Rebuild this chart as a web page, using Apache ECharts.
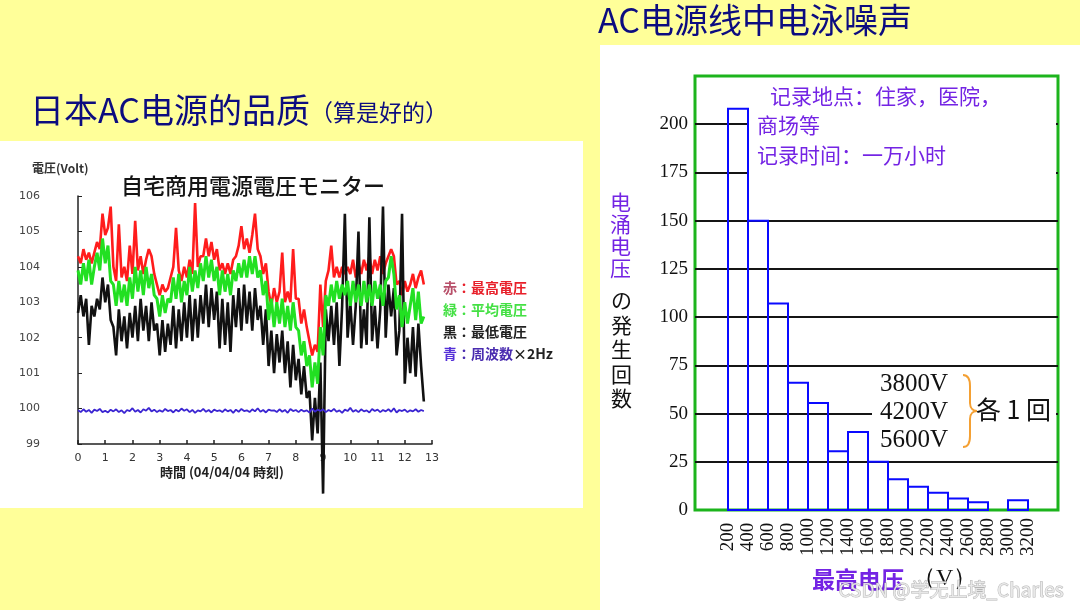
<!DOCTYPE html>
<html>
<head>
<meta charset="utf-8">
<script src="https://cdn.jsdelivr.net/npm/echarts@6/dist/echarts.min.js"></script>
<style>
html,body{margin:0;padding:0;width:1080px;height:610px;background:#ffff99;overflow:hidden;}
#panelL{position:absolute;left:0;top:141px;width:583px;height:367px;background:#fff;}
#panelR{position:absolute;left:600px;top:45px;width:480px;height:565px;background:#fff;}
#chart{position:absolute;left:0;top:0;width:1080px;height:610px;}
</style>
</head>
<body>
<div id="panelL"></div>
<div id="panelR"></div>
<div id="chart"></div>
<script>
// ---------- Left chart: 自宅商用電源電圧モニター ----------
const HOURS = [0,0.1,0.2,0.3,0.4,0.5,0.6,0.7,0.8,0.9,1.0,1.1,1.2,1.3,1.4,1.5,1.6,1.7,1.8,1.9,
2.0,2.1,2.2,2.3,2.4,2.5,2.6,2.7,2.8,2.9,3.0,3.1,3.2,3.3,3.4,3.5,3.6,3.7,3.8,3.9,
4.0,4.1,4.2,4.3,4.4,4.5,4.6,4.7,4.8,4.9,5.0,5.1,5.2,5.3,5.4,5.5,5.6,5.7,5.8,5.9,
6.0,6.1,6.2,6.3,6.4,6.5,6.6,6.7,6.8,6.9,7.0,7.1,7.2,7.3,7.4,7.5,7.6,7.7,7.8,7.9,
8.0,8.1,8.2,8.3,8.4,8.5,8.6,8.7,8.8,8.9,9.0,9.1,9.2,9.3,9.4,9.5,9.6,9.7,9.8,9.9,
10.0,10.1,10.2,10.3,10.4,10.5,10.6,10.7,10.8,10.9,11.0,11.1,11.2,11.3,11.4,11.5,11.6,11.7,11.8,11.9,
12.0,12.1,12.2,12.3,12.4,12.5,12.6,12.7];

const V_MAX = [104.3,104.1,104.5,104.2,104.4,104.1,104.4,
104.7,104.5,105.5,104.9,
105.1,105.7,
104.0,103.6,105.2,103.7,104.0,103.6,104.6,103.8,
105.3,103.9,104.3,103.8,104.2,104.5,104.3,103.8,
103.5,103.2,103.5,103.3,103.4,
103.7,104.0,105.1,103.9,103.6,104.0,103.7,
104.2,103.8,105.8,104.0,104.3,
104.3,104.8,104.3,104.7,104.2,104.5,
103.9,104.1,103.8,104.1,103.8,104.2,
104.3,104.6,105.15,104.5,104.8,104.4,104.9,105.5,104.5,
104.3,103.8,104.1,
103.3,102.9,103.4,103.0,103.3,104.4,103.0,103.3,
103.0,104.5,103.1,
103.1,102.4,102.8,102.3,
101.9,101.5,101.8,101.6,
103.5,102.3,
103.6,103.9,104.6,103.7,
104.0,103.7,104.0,103.8,104.0,
103.8,104.2,103.7,104.1,103.8,104.2,103.9,104.3,103.8,104.2,103.9,104.3,103.8,104.1,
104.3,104.5,104.3,
103.5,103.6,103.2,103.6,103.3,103.5,
103.8,103.4,103.7,103.9,103.5];

const V_AVG = [103.9,103.5,104.1,103.6,104.2,103.5,104.0,
104.4,103.9,104.8,104.1,
104.6,103.6,
103.5,102.9,103.6,103.0,103.5,102.9,103.7,103.1,
104.0,103.3,103.9,103.2,104.0,103.4,103.8,103.2,
103.1,102.6,103.2,102.7,103.1,
103.0,103.7,103.1,103.8,103.0,103.6,103.2,
104.0,103.3,103.9,103.4,104.1,
103.6,104.3,103.7,104.2,103.6,104.0,
103.2,103.9,103.3,103.8,103.2,103.9,
103.6,104.1,103.7,104.2,103.7,104.3,103.8,104.3,103.7,
103.9,103.2,103.6,
102.5,103.1,102.3,103.0,102.4,103.1,102.3,102.9,
102.2,103.0,102.3,
102.2,101.5,101.9,101.2,
101.5,100.6,101.3,100.7,
102.3,101.5,
103.2,102.9,103.5,103.0,
103.6,103.1,103.5,103.2,103.6,
102.9,103.6,103.0,103.5,102.9,103.6,103.0,103.5,102.9,103.6,103.1,103.5,102.9,103.6,
103.7,104.3,103.8,
102.8,103.2,102.3,103.0,102.4,102.9,
103.4,102.5,103.3,102.4,102.6];

const V_MIN = [102.7,103.2,102.6,103.1,101.8,102.9,102.6,
103.1,102.8,103.7,103.0,
103.5,102.5,
102.3,101.5,102.8,101.9,102.6,101.7,102.7,102.0,
102.9,101.9,103.1,102.2,102.9,101.9,103.0,102.2,
102.4,101.5,102.5,101.6,102.4,
101.8,102.9,101.7,102.8,101.9,103.0,102.0,
103.2,101.9,103.1,102.0,103.2,
102.4,103.5,102.3,103.4,102.5,103.3,
101.7,103.1,101.8,103.0,101.6,103.2,
102.3,103.4,102.2,103.5,102.4,103.3,102.2,103.4,102.5,
102.9,101.8,102.8,
101.2,102.2,101.0,102.1,101.3,102.2,101.0,101.9,
100.6,101.8,100.8,
101.4,100.4,101.2,100.3,
100.5,99.1,100.3,99.3,
101.3,97.6,
102.8,101.9,102.9,101.8,
103.0,101.2,102.9,105.5,102.0,
103.0,101.8,102.9,105.0,101.7,102.8,101.8,105.4,101.9,102.9,101.7,102.8,105.7,102.0,
103.5,102.6,103.4,
101.5,102.2,105.5,100.7,102.0,101.0,
102.3,100.9,102.4,101.2,100.2];

const FREQ_X2 = [99.95,99.90,99.98,99.91,99.96,99.88,99.97,99.93,99.99,99.90,
99.94,99.89,99.97,99.92,99.98,99.90,99.95,99.87,99.96,99.93,
100.01,99.91,99.96,99.89,99.98,99.94,100.02,99.92,99.97,99.90,
99.95,99.91,99.99,99.93,99.96,99.89,99.97,99.92,100.0,99.94,
99.98,99.90,99.96,99.88,99.95,99.92,99.99,99.91,99.96,99.89,
99.97,99.93,99.95,99.90,99.98,99.92,99.96,99.88,99.97,99.91,
99.99,99.93,99.95,99.90,99.98,99.92,100.01,99.91,99.96,99.89,
99.97,99.94,99.95,99.90,99.98,99.91,99.96,99.88,99.99,99.93,
99.96,99.90,99.97,99.92,99.95,99.89,100.0,99.91,99.97,99.93,
99.98,99.90,99.96,99.92,99.99,99.91,99.95,99.88,99.97,99.93,
100.02,99.91,99.96,99.90,99.98,99.92,99.95,99.89,99.99,99.93,
99.97,99.90,99.96,99.92,99.98,99.91,100.01,99.89,99.96,99.93,
99.97,99.90,99.95,99.92,99.98,99.91,99.96,99.93];

// ---------- Right chart: surge histogram ----------
const BIN_EDGES = [200,400,600,800,1000,1200,1400,1600,1800,2000,2200,2400,2600,2800,3000,3200];
const SURGE_COUNTS = [208,150,107,66,55.5,30.5,40.5,25,16,12,9,6,4,0,5];

const pairs = vals => HOURS.map((h, i) => [h, vals[i]]);
const histData = [];
for (let i = 0; i < SURGE_COUNTS.length; i++) {
  if (SURGE_COUNTS[i] > 0) histData.push([BIN_EDGES[i], BIN_EDGES[i + 1], SURGE_COUNTS[i]]);
}

const CJK = '"Noto Sans CJK SC", "Noto Sans", sans-serif';
const JP = '"Noto Sans CJK JP", "Noto Sans", sans-serif';
const SERIF = '"Liberation Serif", "DejaVu Serif", serif';
const PURPLE = '#7424e4';
const NAVY = '#0c0c80';
const ORANGE = '#f4a033';

const chart = echarts.init(document.getElementById('chart'), null, {renderer: 'canvas'});

const lineBase = {type: 'line', xAxisIndex: 0, yAxisIndex: 0, symbol: 'none', clip: false, animation: false};

const option = {
  backgroundColor: 'transparent',
  animation: false,
  grid: [
    {left: 78, top: 196, width: 354, height: 248},
    {left: 695, top: 76, width: 363, height: 434, show: true, borderColor: '#1cb41c', borderWidth: 3, backgroundColor: 'transparent'}
  ],
  xAxis: [
    {
      gridIndex: 0, type: 'value', min: 0, max: 13, interval: 1,
      axisLine: {lineStyle: {color: '#222', width: 1.5}},
      axisTick: {inside: true, length: 4, lineStyle: {color: '#222', width: 1.5}},
      axisLabel: {color: '#333', fontSize: 11, margin: 9, fontFamily: 'DejaVu Sans'},
      splitLine: {show: false}
    },
    {
      gridIndex: 1, type: 'value', min: -130, max: 3500,
      axisLine: {show: false}, axisTick: {show: false},
      axisLabel: {customValues: BIN_EDGES, rotate: 90, align: 'center', verticalAlign: 'middle', margin: 27,
        fontFamily: SERIF, fontSize: 19, color: '#111', formatter: v => String(v)},
      splitLine: {show: false}
    }
  ],
  yAxis: [
    {
      gridIndex: 0, type: 'value', min: 99, max: 106, interval: 1,
      axisLine: {show: true, lineStyle: {color: '#222', width: 1.5}},
      axisTick: {show: true, inside: true, length: 4, lineStyle: {color: '#222'}},
      axisLabel: {color: '#444', fontSize: 11, margin: 38, fontFamily: 'DejaVu Sans'},
      splitLine: {show: false}
    },
    {
      gridIndex: 1, type: 'value', min: 0, max: 225, interval: 25,
      axisLine: {show: false}, axisTick: {show: false},
      axisLabel: {fontFamily: SERIF, fontSize: 19, color: '#111', margin: 7,
        formatter: v => (v >= 225 ? '' : String(v))},
      splitLine: {show: true, showMaxLine: false, showMinLine: false, lineStyle: {color: '#151515', width: 2}}
    }
  ],
  series: [
    Object.assign({}, lineBase, {name: '最高電圧', data: pairs(V_MAX), z: 2, lineStyle: {color: '#ff1c1c', width: 2.6}}),
    Object.assign({}, lineBase, {name: '最低電圧', data: pairs(V_MIN), z: 3, lineStyle: {color: '#111111', width: 2.6}}),
    Object.assign({}, lineBase, {name: '平均電圧', data: pairs(V_AVG), z: 4, lineStyle: {color: '#22e022', width: 3}}),
    Object.assign({}, lineBase, {name: '周波数×2Hz', data: pairs(FREQ_X2), z: 5, lineStyle: {color: '#3b25d2', width: 1.8}}),
    {
      type: 'custom', xAxisIndex: 1, yAxisIndex: 1, z: 10, animation: false,
      data: histData,
      encode: {x: [0, 1], y: 2},
      renderItem: function (params, api) {
        const p0 = api.coord([api.value(0), api.value(2)]);
        const p1 = api.coord([api.value(1), 0]);
        return {
          type: 'rect',
          shape: {x: p0[0], y: p0[1], width: p1[0] - p0[0], height: p1[1] - p0[1]},
          style: {fill: 'none', stroke: '#0a0aff', lineWidth: 2}
        };
      }
    }
  ],
  graphic: [
    // titles
    {type: 'text', left: 598, top: 3, z: 20, style: {text: 'AC电源线中电泳噪声', fill: NAVY, font: '34px ' + CJK}},
    {type: 'text', left: 30, top: 93, z: 20, style: {
      text: '{a|日本AC电源的品质}{b|（算是好的）}',
      rich: {a: {fill: NAVY, font: '34px ' + CJK, verticalAlign: 'bottom'}, b: {fill: NAVY, font: '23px ' + CJK, verticalAlign: 'bottom', padding: [0, 0, 3, 0]}}
    }},
    // left chart texts
    {type: 'text', left: 32, top: 162, z: 20, style: {text: '電圧(Volt)', fill: '#333', font: 'bold 12px ' + JP}},
    {type: 'text', left: 121, top: 175, z: 20, style: {text: '自宅商用電源電圧モニター', fill: '#151515', font: '500 22px ' + JP}},
    {type: 'text', left: 160, top: 466, z: 20, style: {text: '時間 (04/04/04 時刻)', fill: '#222', font: 'bold 13px ' + JP}},
    {type: 'text', left: 443, top: 281, z: 20, style: {
      text: '{a|赤}{r|：最高電圧}\n{g|緑：平均電圧}\n{k|黒：最低電圧}\n{b|青}{p|：周波数}{k|×2Hz}',
      rich: {
        a: {fill: '#b8506a', font: 'bold 14px ' + JP, lineHeight: 22},
        r: {fill: '#e8202a', font: 'bold 14px ' + JP, lineHeight: 22},
        g: {fill: '#44e044', font: 'bold 14px ' + JP, lineHeight: 22},
        k: {fill: '#222', font: 'bold 14px ' + JP, lineHeight: 22},
        b: {fill: '#5530d8', font: 'bold 14px ' + JP, lineHeight: 22},
        p: {fill: '#4a2cb0', font: 'bold 14px ' + JP, lineHeight: 22}
      }
    }},
    // right chart cover boxes for annotations
    {type: 'rect', z: 1, shape: {x: 748, y: 78, width: 308, height: 126}, style: {fill: '#ffffff'}},
    {type: 'rect', z: 1, shape: {x: 872, y: 378, width: 184, height: 74}, style: {fill: '#ffffff'}},
    {type: 'text', left: 770, top: 86, z: 20, style: {text: '记录地点：住家，医院，', fill: PURPLE, font: '21px ' + CJK}},
    {type: 'text', left: 757, top: 115, z: 20, style: {text: '商场等', fill: PURPLE, font: '21px ' + CJK}},
    {type: 'text', left: 757, top: 145, z: 20, style: {text: '记录时间：一万小时', fill: PURPLE, font: '21px ' + CJK}},
    {type: 'text', left: 880, top: 370, z: 20, style: {text: '3800V\n4200V\n5600V', fill: '#111', font: '25px ' + SERIF, lineHeight: 28}},
    // curly brace
    {type: 'bezierCurve', z: 20, shape: {x1: 963, y1: 375, x2: 970, y2: 386, cpx1: 969, cpy1: 375, cpx2: 970, cpy2: 380}, style: {fill: 'none', stroke: ORANGE, lineWidth: 2}},
    {type: 'line', z: 20, shape: {x1: 970, y1: 386, x2: 970, y2: 403}, style: {stroke: ORANGE, lineWidth: 2}},
    {type: 'bezierCurve', z: 20, shape: {x1: 970, y1: 403, x2: 977, y2: 411, cpx1: 970, cpy1: 409, cpx2: 974, cpy2: 411}, style: {fill: 'none', stroke: ORANGE, lineWidth: 2}},
    {type: 'bezierCurve', z: 20, shape: {x1: 977, y1: 411, x2: 970, y2: 419, cpx1: 974, cpy1: 411, cpx2: 970, cpy2: 413}, style: {fill: 'none', stroke: ORANGE, lineWidth: 2}},
    {type: 'line', z: 20, shape: {x1: 970, y1: 419, x2: 970, y2: 436}, style: {stroke: ORANGE, lineWidth: 2}},
    {type: 'bezierCurve', z: 20, shape: {x1: 970, y1: 436, x2: 963, y2: 447, cpx1: 970, cpy1: 442, cpx2: 969, cpy2: 447}, style: {fill: 'none', stroke: ORANGE, lineWidth: 2}},
    {type: 'text', left: 976, top: 397, z: 20, style: {text: '各 1 回', fill: '#111', font: '25px ' + CJK}},
    // y axis name
    {type: 'text', left: 610, top: 191, z: 20, style: {text: '电\n涌\n电\n压', fill: PURPLE, font: '21px ' + CJK, lineHeight: 22}},
    {type: 'text', left: 611, top: 288, z: 20, style: {text: 'の\n発\n生\n回\n数', fill: '#111', font: '21px ' + JP, lineHeight: 24.5}},
    // x axis name
    {type: 'text', left: 812, top: 568, z: 20, style: {text: '最高电压', fill: PURPLE, font: 'bold 23px ' + CJK}},
    {type: 'text', left: 912, top: 567, z: 20, style: {text: '（V）', fill: '#111', font: '24px ' + SERIF}},
    // watermark
    {type: 'text', left: 838, top: 580, z: 30, style: {text: 'CSDN @学无止境_Charles', fill: 'rgba(235,235,235,0.9)', stroke: 'rgba(120,120,120,0.55)', lineWidth: 1, font: '19px ' + CJK}}
  ]
};
chart.setOption(option);
</script>
</body>
</html>
